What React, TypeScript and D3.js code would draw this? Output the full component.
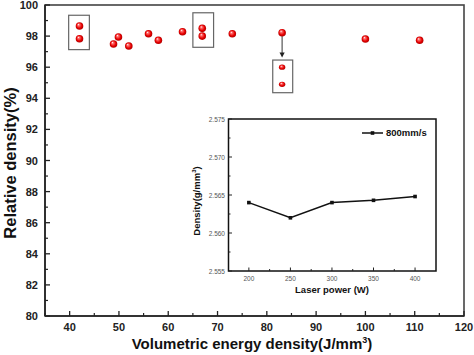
import React from "react";
import * as d3 from "d3";

// Main chart data
const energyX = [42, 42, 48.9, 49.9, 52, 56, 58, 62.9, 66.9, 66.9, 73, 83.1, 100, 111];
const densityY = [98.65, 97.83, 97.49, 97.94, 97.36, 98.15, 97.73, 98.28, 98.5, 98.0, 98.15, 98.22, 97.81, 97.73];
const smallX = [83.1, 83.1];
const smallY = [96.0, 94.9];
const xTicks = [40, 50, 60, 70, 80, 90, 100, 110, 120];
const yTicks = [80, 82, 84, 86, 88, 90, 92, 94, 96, 98, 100];

// Annotation boxes [x0, x1, yTop, yBottom] in data units
const boxX0 = [39.8, 65.0, 81.2];
const boxX1 = [44.0, 69.2, 85.25];
const boxYTop = [99.34, 99.5, 96.46];
const boxYBot = [97.13, 97.28, 94.36];

// Inset data
const power = [200, 250, 300, 350, 400];
const insetDensity = [2.564, 2.562, 2.564, 2.5643, 2.5648];
const insetXTicks = [200, 250, 300, 350, 400];
const insetYTicks = [2.555, 2.56, 2.565, 2.57, 2.575];

const FONT = "'Liberation Sans', Arial, sans-serif";

export default function App() {
  const x = d3.scaleLinear().domain([35, 120]).range([45, 464]);
  const y = d3.scaleLinear().domain([80, 100]).range([316, 5]);
  const ix = d3.scaleLinear().domain([175.5, 425.2]).range([228.5, 436]);
  const iy = d3.scaleLinear().domain([2.555, 2.575]).range([271, 119]);

  const xMinor = d3.range(35, 121, 5).filter((v) => v % 10 !== 0);
  const yMinor = d3.range(81, 100, 2);
  const ixMinor = [225, 275, 325, 375];
  const iyMinor = [2.5575, 2.5625, 2.5675, 2.5725];

  const line = d3
    .line<number>()
    .x((_, i) => ix(power[i]))
    .y((d) => iy(d));

  const axisColor = "#222";
  const ax = x(83.1);
  const ayEnd = y(96.62);

  return (
    <svg width={474} height={355} style={{ position: "absolute", left: 0, top: 0, background: "#fff" }}>
      <defs>
        <radialGradient id="ball" cx="50%" cy="50%" r="55%" fx="35%" fy="30%">
          <stop offset="0%" stopColor="#ffffff" />
          <stop offset="22%" stopColor="#ff7070" />
          <stop offset="65%" stopColor="#e60000" />
          <stop offset="100%" stopColor="#a30000" />
        </radialGradient>
      </defs>

      {/* main frame */}
      <rect x={x(35)} y={y(100)} width={x(120) - x(35)} height={y(80) - y(100)} fill="none" stroke="#444" strokeWidth={1.6} />
      <line x1={x(35)} x2={x(35)} y1={y(100)} y2={y(80)} stroke={axisColor} strokeWidth={1.6} />
      <line x1={x(35)} x2={x(120)} y1={y(80)} y2={y(80)} stroke={axisColor} strokeWidth={1.6} />

      {/* x ticks */}
      {xTicks.map((t) => (
        <g key={"xt" + t}>
          <line x1={x(t)} x2={x(t)} y1={y(80)} y2={y(80) - 5} stroke={axisColor} strokeWidth={1.3} />
          <text x={x(t)} y={331} textAnchor="middle" fontFamily={FONT} fontWeight="bold" fontSize={11} fill="#222">
            {t}
          </text>
        </g>
      ))}
      {xMinor.map((t) => (
        <line key={"xm" + t} x1={x(t)} x2={x(t)} y1={y(80)} y2={y(80) - 3} stroke={axisColor} strokeWidth={1.2} />
      ))}

      {/* y ticks */}
      {yTicks.map((t) => (
        <g key={"yt" + t}>
          <line x1={x(35)} x2={x(35) + 5} y1={y(t)} y2={y(t)} stroke={axisColor} strokeWidth={1.3} />
          <text x={38} y={y(t) + 4} textAnchor="end" fontFamily={FONT} fontWeight="bold" fontSize={11} fill="#222">
            {t}
          </text>
        </g>
      ))}
      {yMinor.map((t) => (
        <line key={"ym" + t} x1={x(35)} x2={x(35) + 3} y1={y(t)} y2={y(t)} stroke={axisColor} strokeWidth={1.2} />
      ))}

      {/* axis titles */}
      <text x={252} y={349} textAnchor="middle" fontFamily={FONT} fontWeight="bold" fontSize={15} fill="#111">
        Volumetric energy density(J/mm<tspan dy={-6} fontSize={9}>3</tspan>
        <tspan dy={6}>)</tspan>
      </text>
      <text transform={`translate(16,${163}) rotate(-90)`} textAnchor="middle" fontFamily={FONT} fontWeight="bold" fontSize={16.5} fill="#111">
        Relative density(%)
      </text>

      {/* annotation boxes */}
      {boxX0.map((b, i) => (
        <rect key={"box" + i} x={x(b)} y={y(boxYTop[i])} width={x(boxX1[i]) - x(b)} height={y(boxYBot[i]) - y(boxYTop[i])} fill="none" stroke="#666" strokeWidth={1.2} />
      ))}
      <line x1={ax} x2={ax} y1={y(98.0)} y2={ayEnd - 4} stroke="#333" strokeWidth={1} />
      <path d={`M${ax - 2.6},${ayEnd - 5} L${ax + 2.6},${ayEnd - 5} L${ax},${ayEnd} Z`} fill="#222" />

      {/* points */}
      {energyX.map((e, i) => (
        <circle key={"p" + i} cx={x(e)} cy={y(densityY[i])} r={3.8} fill="url(#ball)" />
      ))}
      {smallX.map((e, i) => (
        <ellipse key={"s" + i} cx={x(e)} cy={y(smallY[i])} rx={3.2} ry={2.6} fill="url(#ball)" />
      ))}

      {/* inset */}
      <rect x={ix(175.5)} y={iy(2.575)} width={ix(425.2) - ix(175.5)} height={iy(2.555) - iy(2.575)} fill="#fff" stroke="#111" strokeWidth={1.5} />
      {insetXTicks.map((t) => (
        <g key={"ixt" + t}>
          <line x1={ix(t)} x2={ix(t)} y1={iy(2.555)} y2={iy(2.555) - 3.5} stroke="#222" strokeWidth={1} />
          <text x={ix(t)} y={281} textAnchor="middle" fontFamily={FONT} fontSize={6.5} fill="#555">
            {t}
          </text>
        </g>
      ))}
      {ixMinor.map((t) => (
        <line key={"ixm" + t} x1={ix(t)} x2={ix(t)} y1={iy(2.555)} y2={iy(2.555) - 2} stroke="#222" strokeWidth={1} />
      ))}
      {insetYTicks.map((t) => (
        <g key={"iyt" + t}>
          <line x1={ix(175.5)} x2={ix(175.5) + 3.5} y1={iy(t)} y2={iy(t)} stroke="#222" strokeWidth={1} />
          <text x={225} y={iy(t) + 2.5} textAnchor="end" fontFamily={FONT} fontSize={6.5} fill="#555">
            {d3.format(".3f")(t)}
          </text>
        </g>
      ))}
      {iyMinor.map((t) => (
        <line key={"iym" + t} x1={ix(175.5)} x2={ix(175.5) + 2} y1={iy(t)} y2={iy(t)} stroke="#222" strokeWidth={1} />
      ))}
      <path d={line(insetDensity) || ""} fill="none" stroke="#111" strokeWidth={1.5} />
      {insetDensity.map((d, i) => (
        <rect key={"im" + i} x={ix(power[i]) - 1.8} y={iy(d) - 1.8} width={3.6} height={3.6} fill="#111" />
      ))}
      <text x={332} y={293} textAnchor="middle" fontFamily={FONT} fontWeight="bold" fontSize={9.5} fill="#111">
        Laser power (W)
      </text>
      <text transform={`translate(200,${201}) rotate(-90)`} textAnchor="middle" fontFamily={FONT} fontWeight="bold" fontSize={9.5} fill="#111">
        Density(g/mm<tspan dy={-4} fontSize={6}>3</tspan>
        <tspan dy={4}>)</tspan>
      </text>
      {/* legend */}
      <line x1={362} x2={383} y1={133} y2={133} stroke="#111" strokeWidth={1.5} />
      <rect x={370.7} y={131.2} width={3.6} height={3.6} fill="#111" />
      <text x={386} y={136.3} fontFamily={FONT} fontWeight="bold" fontSize={9.5} fill="#111">
        800mm/s
      </text>
    </svg>
  );
}
